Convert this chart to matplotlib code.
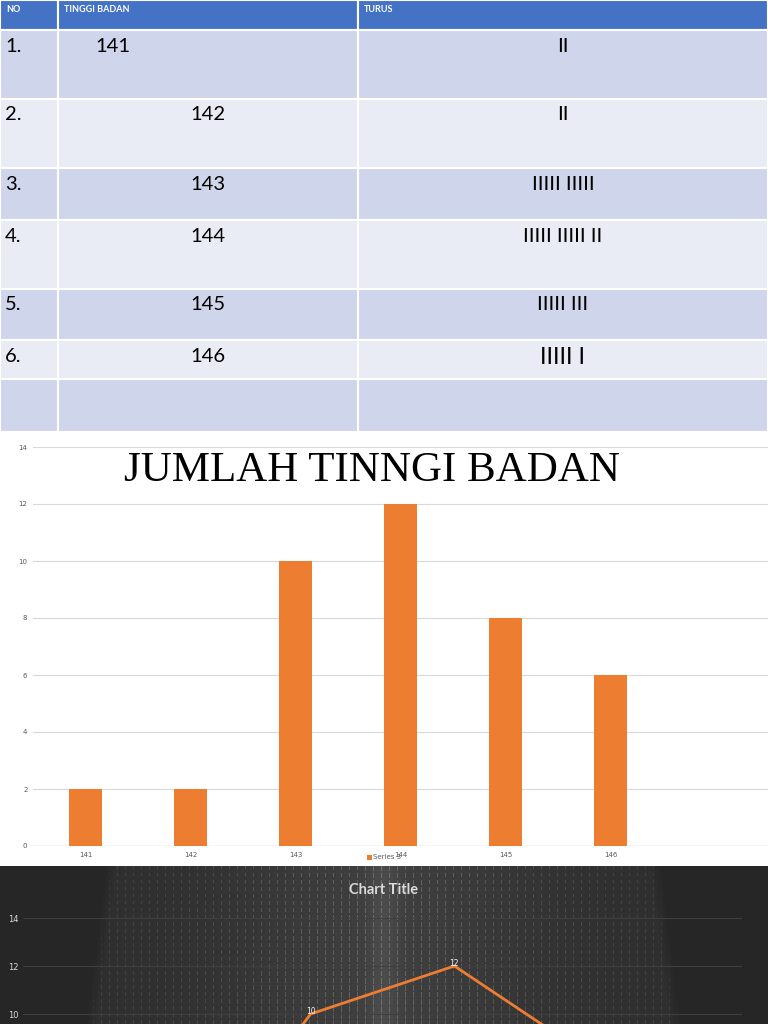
import numpy as np
import matplotlib.pyplot as plt
from matplotlib.patches import Rectangle

# table contents
header = ['NO', 'TINGGI BADAN', 'TURUS']
no_labels = ['1.', '2.', '3.', '4.', '5.', '6.']
tinggi = ['141', '142', '143', '144', '145', '146']
turus = ['II', 'II', 'IIIII IIIII', 'IIIII IIIII II', 'IIIII III', 'IIIII I']

# chart data
categories = ['141', '142', '143', '144', '145', '146']
jumlah = [2, 2, 10, 12, 8, 6]
yticks = [0, 2, 4, 6, 8, 10, 12, 14]

ORANGE = '#ED7D31'
W, H = 768, 1024

fig = plt.figure(figsize=(7.68, 10.24), dpi=100)
fig.patch.set_facecolor('white')

# ---------- table (drawn in pixel coords) ----------
tab = fig.add_axes([0, 0, 1, 1])
tab.set_xlim(0, W)
tab.set_ylim(H, 0)
tab.axis('off')

row_edges = [0, 30, 99, 168, 220, 289, 340, 379, 432]
col_edges = [0, 58, 358, W]
row_colors = ['#4472C4', '#CFD5EA', '#E9EBF5', '#CFD5EA', '#E9EBF5',
              '#CFD5EA', '#E9EBF5', '#CFD5EA']
for r in range(len(row_edges) - 1):
    for c in range(len(col_edges) - 1):
        tab.add_patch(Rectangle((col_edges[c], row_edges[r]),
                                col_edges[c + 1] - col_edges[c],
                                row_edges[r + 1] - row_edges[r],
                                facecolor=row_colors[r], edgecolor='white', lw=1.5))

hfont = dict(family='Lato', weight='bold', color='white', fontsize=6.5, va='center')
for c, txt in enumerate(header):
    tab.text(col_edges[c] + 6, 10, txt, **hfont)

cfont = dict(family='Lato', color='black', va='center')
tinggi_x = [113, 208, 208, 208, 208, 208]
turus_size = [14.5, 14.5, 14.5, 14.5, 14.5, 17]
for i in range(len(no_labels)):
    yc = row_edges[i + 1] + 16
    tab.text(5, yc, no_labels[i], ha='left', fontsize=14.5, **cfont)
    tab.text(tinggi_x[i], yc, tinggi[i], ha='center', fontsize=14.5, **cfont)
    tab.text(563, yc + (1.5 if turus_size[i] > 15 else 0), turus[i], ha='center',
             fontsize=turus_size[i], **cfont)

# ---------- bar chart ----------
ax = fig.add_axes([33 / W, (H - 846) / H, 1 - 33 / W, 399 / H])
x = np.arange(len(categories))
ax.bar(x, jumlah, width=0.31, color=ORANGE, zorder=3)
ax.set_xlim(-0.5, 6.5)
ax.set_ylim(0, 14)
ax.set_yticks(yticks)
ax.set_xticks(x)
ax.set_xticklabels(categories)
ax.grid(axis='y', color='#D9D9D9', lw=0.8, zorder=0)
for s in ax.spines.values():
    s.set_visible(False)
ax.axhline(0, color='#BFBFBF', lw=0.9, zorder=2)
ax.tick_params(length=0, labelsize=5, labelcolor='#595959', pad=4)
ax.set_facecolor('none')
fig.text(372 / W, (H - 471) / H, 'JUMLAH TINNGI BADAN', family='Liberation Serif',
         fontsize=31, ha='center', va='center', color='black')
fig.patches.append(Rectangle((367 / W, (H - 860) / H), 5 / W, 5 / H,
                             transform=fig.transFigure, facecolor=ORANGE,
                             edgecolor='none', figure=fig))
fig.text(373 / W, (H - 857) / H, 'Series 3', fontsize=5, color='#595959',
         ha='left', va='center')

# ---------- dark line chart (cut off at bottom of the page) ----------
bh = 158
bg = fig.add_axes([0, 0, 1, bh / H])
yy, xx = np.mgrid[0:bh, 0:W].astype(float)
d = xx - 383
halfw = 278 + 0.127 * yy
inside = np.clip((halfw - np.abs(d)) / 12.0, 0, 1)
shade = 0.15 + inside * (0.035 + 0.06 * np.exp(-(d / 150.0) ** 2)
                         + 0.05 * np.exp(-(d / 15.0) ** 2))
dash_len = 2.5 + 1.5 * np.exp(-(d / 120.0) ** 2) + yy / 110.0
dash = (((xx + 3) % 8) < 1) & ((yy % 7) < dash_len)
shade = shade + dash * inside * (0.06 + 0.08 * np.exp(-(d / 180.0) ** 2))
img = np.dstack([shade, shade, shade]).clip(0, 1)
bg.imshow(img, aspect='auto', extent=(0, W, bh, 0), interpolation='bilinear')
bg.axis('off')

top_px, unit = 918, 24
vis = (H - top_px) / unit  # data units visible below the top gridline
lx = fig.add_axes([23 / W, 0, (742 - 23) / W, (H - top_px) / H])
lx.set_facecolor('none')
lx.plot(x, jumlah, color=ORANGE, lw=2, zorder=3)
for xi, v in zip(x, jumlah):
    lx.annotate(str(v), (xi, v), xytext=(0, 2), textcoords='offset points',
                ha='center', va='center', fontsize=5.5, color='#F2F2F2', zorder=4)
lx.set_xlim(0, len(categories) - 1)
lx.set_ylim(14 - vis, 14)
lx.set_yticks([t for t in yticks if t >= 14 - vis])
lx.set_xticks([])
lx.grid(axis='y', color='#3F3F3F', lw=0.8)
for s in lx.spines.values():
    s.set_visible(False)
lx.tick_params(length=0, labelsize=6, labelcolor='#D9D9D9', pad=3)
fig.text(384 / W, (H - 890) / H, 'Chart Title', family='Lato', weight='bold',
         fontsize=10.5, color='#D9D9D9', ha='center', va='center')

fig.savefig('out.png', dpi=100)
